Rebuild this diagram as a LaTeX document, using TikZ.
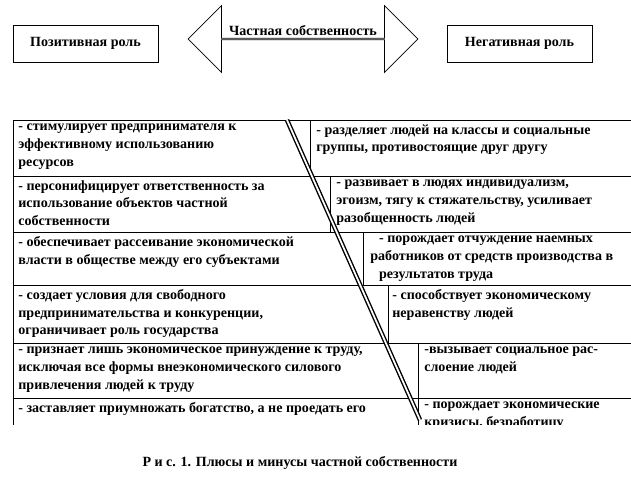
\documentclass[tikz,border=0pt]{standalone}
\usepackage{fontspec}
\setmainfont{Liberation Serif}
\usetikzlibrary{shapes.arrows}
\begin{document}
\begin{tikzpicture}[x=0.02cm, y=-0.02cm, font=\bfseries\fontsize{8}{10.1}\selectfont,
  rolebox/.style = {draw, minimum width=2.9cm, minimum height=0.74cm, inner sep=0pt},
  cell/.style = {anchor=north west, align=left, inner sep=0pt}]
  \clip (0,0) rectangle (631,501);
  % top
  \node[rolebox] (pos) at (85.5,43.5) {Позитивная роль};
  \node[rolebox] (neg) at (519.5,43.5) {Негативная роль};
  \node[draw, double arrow, double arrow head extend=0.3cm, minimum height=4.6cm,
        minimum width=1.34cm, inner sep=0pt] (own) at (303,39) {};
  \node (ownt) at (303,31) {Частная собственность};
  % table
  \draw (13,120) -- (631,120);
  \draw (13,120) -- (13,425);
  \foreach \y in {176,232,285,343,398} \draw (13,\y) -- (631,\y);
  \draw (310,120) -- (310,176);
  \draw (330,176) -- (330,232);
  \draw (363,232) -- (363,285);
  \draw (388,285) -- (388,343);
  \draw (418,343) -- (418,398);
  \draw (418,398) -- (418,425);
  \draw[double, thick, double distance=1pt] (287,120) -- (420,420);
  % left column
  \node[cell] (p1) at (18,124) {- стимулирует предпринимателя к\\эффективному использованию\\ресурсов};
  \node[cell] (p2) at (18,180) {- персонифицирует ответственность за\\использование объектов частной\\собственности};
  \node[cell] (p3) at (18,236) {- обеспечивает рассеивание экономической\\власти в обществе между его субъектами};
  \node[cell] (p4) at (18,289) {- создает условия для свободного\\предпринимательства и конкуренции,\\ограничивает роль государства};
  \node[cell] (p5) at (18,347) {- признает лишь экономическое принуждение к труду,\\исключая все формы внеэкономического силового\\привлечения людей к труду};
  \node[cell] (p6) at (18,402) {- заставляет приумножать богатство, а не проедать его};
  % right column
  \node[cell] (n1) at (316,124) {- разделяет людей на классы и социальные\\группы, противостоящие друг другу};
  \node[cell] (n2) at (336,180) {- развивает в людях индивидуализм,\\эгоизм, тягу к стяжательству, усиливает\\разобщенность людей};
  \node[cell] (n3) at (370,236) {\hspace{5pt}- порождает отчуждение наемных\\работников от средств производства в\\\hspace{5pt}результатов труда};
  \node[cell] (n4) at (392,289) {- способствует экономическому\\неравенству людей};
  \node[cell] (n5) at (424,347) {-вызывает социальное рас-\\слоение людей};
  \node[cell] (n6) at (424,402) {- порождает экономические\\кризисы, безработицу};
  \fill[white] (0,425) rectangle (631,445);
  \node (cap) at (300,463) {Р и с. 1. Плюсы и минусы частной собственности};
\end{tikzpicture}
\end{document}
